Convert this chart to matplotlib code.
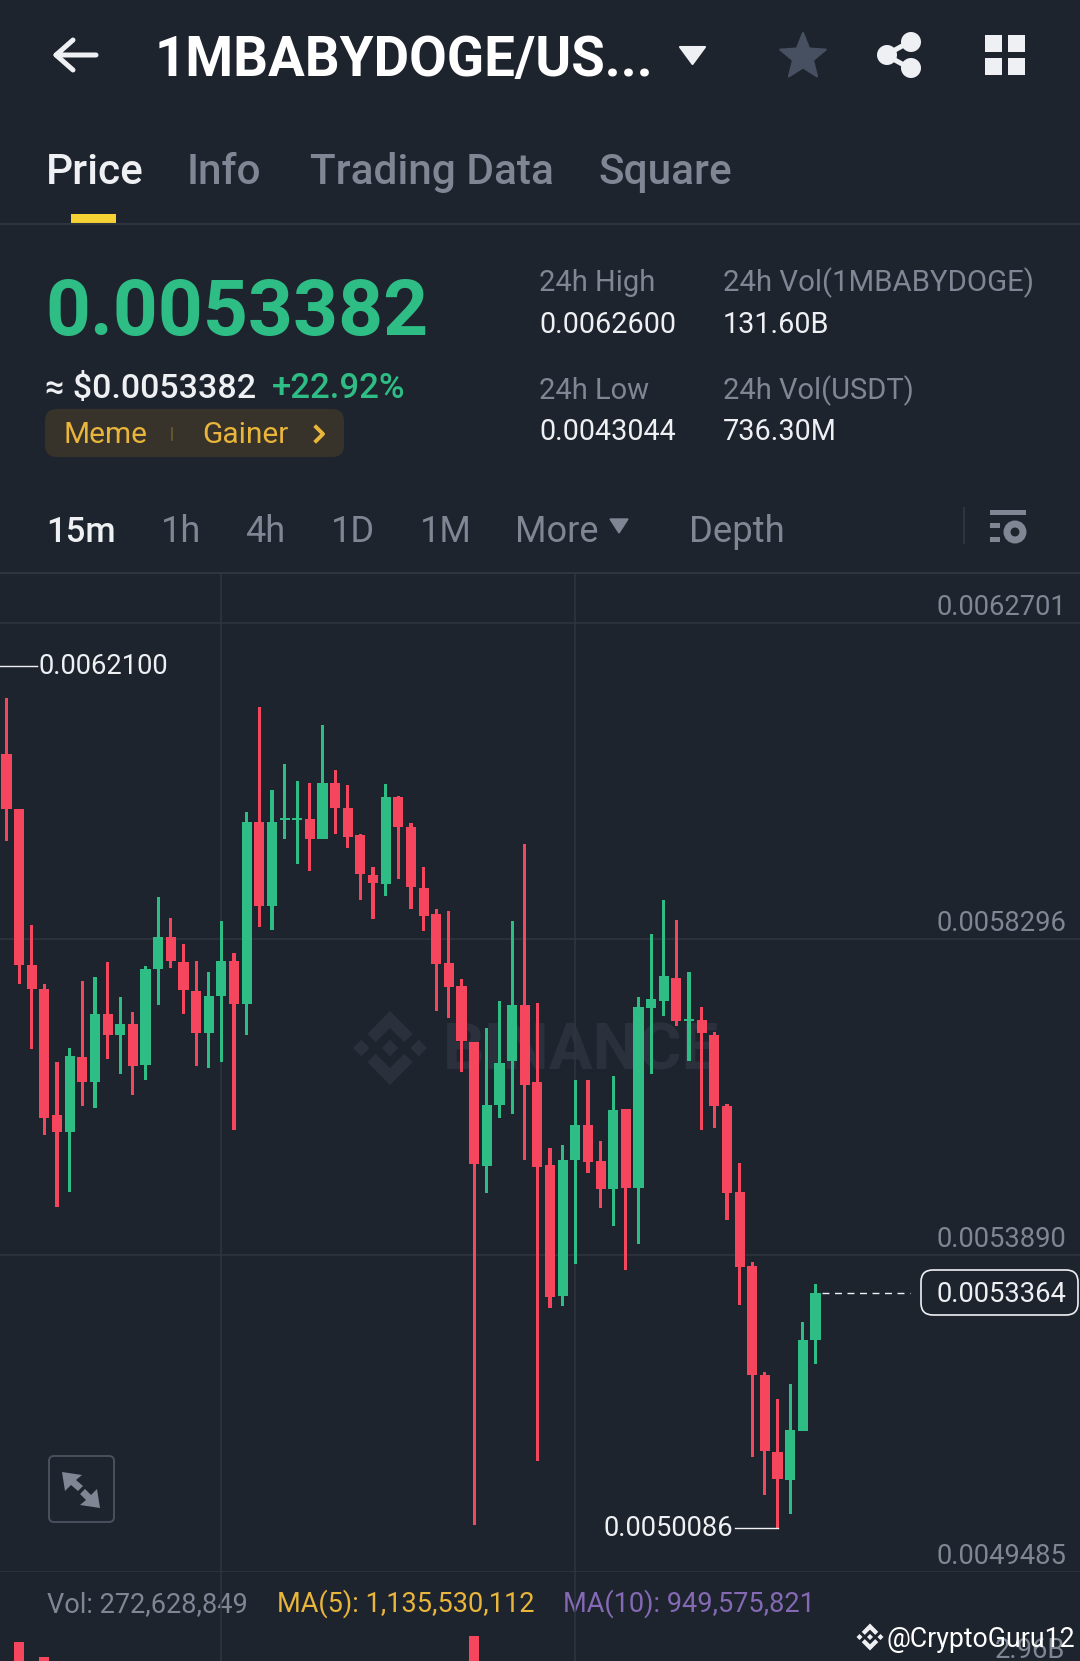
import numpy as np
import matplotlib
matplotlib.use("Agg")
import matplotlib.pyplot as plt
from matplotlib.patches import Polygon, FancyBboxPatch, Circle, Rectangle

plt.rcParams['font.family'] = ['Roboto', 'DejaVu Sans']

# candle prices, in units of 1e-7
high = [61654, 60105, 58493, 57673, 56579, 56781, 57707, 57764, 57970, 57491, 57280, 57913, 58882,
        58594, 58229, 57985, 57841, 58541, 58105, 60066, 61529, 60364, 60738, 60493, 60469, 61270,
        60651, 60440, 59764, 59294, 60450, 60282, 59913, 59294, 58718, 58690, 57735, 56867, 57056,
        57430, 58543, 59613, 57402, 55378, 55426, 56327, 56327, 55483, 56394, 55929, 57483, 58361,
        58845, 58562, 57838, 57349, 56994, 56001, 55172, 53795, 52266, 51886, 52092, 52956, 53491]
low = [59663, 57673, 56762, 55572, 54565, 54776, 55966, 55937, 56618, 56421, 56124, 56325, 57380,
       57894, 57246, 56522, 56493, 56584, 55630, 56963, 58464, 58426, 59687, 59347, 59241, 59687,
       59759, 59567, 58843, 58570, 58896, 59136, 58714, 58402, 57299, 57189, 56450, 50134, 54764,
       55805, 55857, 55219, 51026, 53152, 53186, 53771, 55037, 54553, 54303, 53685, 54054, 56418,
       57219, 57085, 56591, 55642, 55665, 54385, 53196, 51084, 50556, 50086, 50289, 51445, 52371]
opens = [60872, 60105, 57937, 57601, 55841, 55611, 56651, 56301, 57251, 56953, 57117, 56541, 57884,
         58330, 57980, 57572, 56982, 57505, 57985, 57395, 59927, 58752, 59951, 59951, 59970, 59687,
         60474, 60119, 59745, 59188, 59064, 60277, 59855, 59011, 58637, 57956, 57635, 56867, 55138,
         55977, 56596, 57378, 56303, 55152, 53320, 55224, 55699, 55200, 54807, 55929, 54826, 57339,
         57426, 57752, 57147, 57167, 56960, 55963, 54778, 53739, 52228, 51147, 50767, 51445, 52707]
closes = [60109, 57937, 57601, 55807, 55601, 56666, 56301, 57251, 56953, 57117, 56531, 57884, 58320,
          57985, 57587, 56992, 57505, 57989, 57395, 59927, 58752, 59927, 59985, 59985, 59692, 60474,
          60119, 59721, 59198, 59069, 60277, 59860, 59021, 58618, 57941, 57630, 56877, 55160, 55977,
          56562, 57378, 56265, 55124, 53306, 55220, 55704, 55186, 54807, 55920, 54826, 57344, 57464,
          57781, 57152, 57181, 56984, 55972, 54759, 53723, 52228, 51159, 50773, 51458, 52707, 53364]

price_ticks = [62701, 58296, 53890, 49485]
price_tick_labels = ['0.0062701', '0.0058296', '0.0053890', '0.0049485']
time_gridlines = [17, 45]

vol_index = [1, 3, 37]
vol_values = [3.65, 3.25, 3.80]   # billions, only the tops show

high_mark = 62100
low_mark = 50086
low_mark_index = 61
last_price = 53364

BG = '#1E242E'
GRID = '#2F353F'
GRAY = '#7F8694'
WHITE = '#EEF0F3'
GREEN = '#2EBD85'
RED = '#F6465D'
YELLOW = '#E9B53A'
PURPLE = '#8569B5'
MARK = '#2B313C'

W, H = 1080, 1661
fig = plt.figure(figsize=(W / 100, H / 100), dpi=100, facecolor=BG)

# page furniture goes on an axes in pixel coords
ui = fig.add_axes([0, 0, 1, 1], zorder=1)
ui.set_xlim(0, W)
ui.set_ylim(H, 0)
ui.axis('off')


def label(x, y, s, size=22, color=GRAY, weight='normal', ha='left', zorder=5):
    ui.text(x, y, s, fontsize=size, color=color, fontweight=weight, ha=ha, va='baseline', zorder=zorder)


def logo(cx, cy, size, color, zorder=2):
    k = size / 32.0
    shapes = [
        [(9.8, 13.5), (16, 7.3), (22.2, 13.5), (25.8, 9.9), (16, 0), (6.2, 9.9)],
        [(0, 16), (3.6, 12.4), (7.2, 16), (3.6, 19.6)],
        [(9.8, 18.5), (16, 24.7), (22.2, 18.5), (25.8, 22.1), (16, 32), (6.2, 22.1)],
        [(24.8, 16), (28.4, 12.4), (32, 16), (28.4, 19.6)],
        [(19.6, 16), (16, 12.4), (12.4, 16), (16, 19.6)],
    ]
    for s in shapes:
        pts = [(cx + (a - 16) * k, cy + (b - 16) * k) for a, b in s]
        ui.add_patch(Polygon(pts, closed=True, fc=color, ec='none', zorder=zorder))


# header
ui.plot([96, 56, 73], [55, 55, 40], color=WHITE, lw=3.6, solid_capstyle='round', solid_joinstyle='round')
ui.plot([56, 73], [55, 70], color=WHITE, lw=3.6, solid_capstyle='round')
label(155, 76, '1MBABYDOGE/US...', size=39.3, color='#FFFFFF', weight='bold')
ui.add_patch(Polygon([(680, 47), (705, 47), (692.5, 64)], fc=WHITE, ec=WHITE, lw=1.5, joinstyle='round'))
star_a = np.deg2rad(np.arange(-90, 270, 36))
star_r = np.where(np.arange(10) % 2 == 0, 24, 10.5)
ui.add_patch(Polygon(np.c_[803 + star_r * np.cos(star_a), 57 + star_r * np.sin(star_a)],
                     fc='#475060', ec='#475060', lw=1.5, joinstyle='round'))
ui.plot([911, 886, 911], [41, 55, 69], color=WHITE, lw=3.6)
for cx, cy, r in [(911, 42, 10), (887, 55, 10), (911, 68, 10)]:
    ui.add_patch(Circle((cx, cy), r, fc=WHITE, ec='none'))
for gx in (985, 1008):
    for gy in (35, 58):
        ui.add_patch(Rectangle((gx, gy), 17, 17, fc=WHITE, ec='none'))

# tabs
label(46, 184, 'Price', size=30.5, color=WHITE, weight='medium')
label(187, 184, 'Info', size=30.5, weight='medium')
label(310, 184, 'Trading Data', size=30.5, weight='medium')
label(598, 184, 'Square', size=30.5, weight='medium')
ui.add_patch(Rectangle((71, 214), 45, 9, fc='#F5D133', ec='none'))
ui.plot([0, W], [224, 224], color=GRID, lw=1.5)

# price block
label(45, 335, '0.0053382', size=56.5, color=GREEN, weight='bold')
label(45, 398, '≈ $0.0053382', size=24.5, color=WHITE, weight='medium')
label(272, 398, '+22.92%', size=25, color=GREEN, weight='medium')
ui.add_patch(FancyBboxPatch((55, 419), 279, 28, boxstyle='round,pad=10,rounding_size=12', fc='#37332A', ec='none'))
label(63, 443, 'Meme', size=21.5, color=YELLOW)
ui.plot([172, 172], [428, 440], color='#6B5C2C', lw=1.2)
label(202, 443, 'Gainer', size=21.5, color=YELLOW)
ui.plot([316, 323, 316], [427, 434, 441], color=YELLOW, lw=2.8)

label(539, 291, '24h High', size=21)
label(539, 333, '0.0062600', size=20.7, color=WHITE)
label(539, 399, '24h Low', size=21)
label(539, 440, '0.0043044', size=20.7, color=WHITE)
label(723, 291, '24h Vol(1MBABYDOGE)', size=21.2)
label(723, 333, '131.60B', size=20.7, color=WHITE)
label(723, 399, '24h Vol(USDT)', size=21)
label(723, 440, '736.30M', size=20.7, color=WHITE)

# interval row
label(46, 542, '15m', size=25, color=WHITE, weight='medium')
label(161, 542, '1h', size=26)
label(245, 542, '4h', size=26)
label(331, 542, '1D', size=26)
label(420, 542, '1M', size=26)
label(515, 542, 'More', size=26)
ui.add_patch(Polygon([(610, 519), (628, 519), (619, 533)], fc=GRAY, ec=GRAY, lw=1))
label(689, 542, 'Depth', size=26.3)
ui.plot([964, 964], [508, 543], color=GRID, lw=1.5)
ui.add_patch(Rectangle((990, 510), 36, 5, fc=GRAY, ec='none'))
ui.add_patch(Rectangle((990, 523), 10, 5, fc=GRAY, ec='none'))
ui.add_patch(Rectangle((990, 537), 10, 5, fc=GRAY, ec='none'))
ui.add_patch(Circle((1015, 532), 8, fc=BG, ec=GRAY, lw=5))
ui.plot([0, W], [573, 573], color=GRID, lw=1.5)

# watermark sits under the candles
logo(390, 1048, 74, MARK)
label(443, 1069, 'BINANCE', size=47, color=MARK, weight='bold', zorder=2)

# candles
px_per_candle = 12.64
x_left = -6.5 / px_per_candle
x_right = (W - 6.5) / px_per_candle
y_top = 63393
y_bottom = 49485
chart_top_px = 573.0
chart_bottom_px = 1571.6

ax = fig.add_axes([0, (H - chart_bottom_px) / H, 1, (chart_bottom_px - chart_top_px) / H], zorder=2)
ax.patch.set_alpha(0)
ax.set_xlim(x_left, x_right)
ax.set_ylim(y_bottom, y_top)
ax.set_xticks(time_gridlines)
ax.set_yticks(price_ticks)
ax.grid(True, color=GRID, lw=1.1)
ax.set_axisbelow(True)
ax.tick_params(length=0, labelleft=False, labelbottom=False)
for sp in ax.spines.values():
    sp.set_visible(False)

idx = np.arange(len(high))
o = np.array(opens)
c = np.array(closes)
colors = [GREEN if a >= b else RED for a, b in zip(c, o)]
ax.bar(idx, np.array(high) - np.array(low), bottom=low, width=0.25, color=colors, zorder=3)
ax.bar(idx, np.abs(c - o), bottom=np.minimum(o, c), width=0.8, color=colors, zorder=4)

for p, s in zip(price_ticks, price_tick_labels):
    ax.annotate(s, xy=(1066, p), xycoords=('figure pixels', 'data'), xytext=(0, 8), textcoords='offset pixels',
                ha='right', va='baseline', fontsize=19.7, color=GRAY, annotation_clip=False)

# high, low and last price marks
ax.plot([x_left, 2.4], [high_mark, high_mark], color=WHITE, lw=1)
ax.annotate('0.0062100', xy=(2.5, high_mark), xytext=(0, -8), textcoords='offset pixels',
            ha='left', va='baseline', fontsize=19.7, color=WHITE)
ax.plot([low_mark_index - 3.4, low_mark_index], [low_mark, low_mark], color=WHITE, lw=1, zorder=5)
ax.annotate('0.0050086', xy=(low_mark_index - 3.5, low_mark), xytext=(0, -8), textcoords='offset pixels',
            ha='right', va='baseline', fontsize=19.7, color=WHITE)
ax.plot([64.5, 71.5], [last_price, last_price], color=WHITE, lw=1, dashes=(5, 4), zorder=5)
ui.add_patch(FancyBboxPatch((933, 1282), 133, 21, boxstyle='round,pad=12,rounding_size=12', fc=BG, ec=WHITE, lw=1.2, zorder=6))
ui.text(1001, 1302, '0.0053364', fontsize=19.7, color=WHITE, ha='center', va='baseline', zorder=7)

# expand button
ui.add_patch(FancyBboxPatch((53, 1460), 57, 58, boxstyle='round,pad=4,rounding_size=5', fc='none', ec='#4A515E', lw=1.4))
ui.add_patch(Polygon([(62, 1472), (82, 1475), (76, 1480), (83, 1486), (78, 1491), (71, 1485), (65, 1491)], fc=GRAY, ec='none'))
ui.add_patch(Polygon([(100, 1508), (80, 1505), (86, 1500), (80, 1494), (85, 1489), (91, 1495), (97, 1489)], fc=GRAY, ec='none'))

# volume pane
vol = fig.add_axes([0, 0, 1, (H - chart_bottom_px) / H], zorder=2)
vol.patch.set_alpha(0)
vol.set_xlim(x_left, x_right)
vol.set_ylim(3.14, 5.5)
vol.set_xticks(time_gridlines)
vol.set_yticks([])
vol.grid(True, axis='x', color=GRID, lw=1.1)
vol.set_axisbelow(True)
vol.tick_params(length=0, labelbottom=False)
for sp in vol.spines.values():
    sp.set_visible(False)
vol.bar(vol_index, vol_values, width=0.8, color=RED, zorder=3)

label(47, 1612, 'Vol: 272,628,849', size=19.5)
label(277, 1612, 'MA(5): 1,135,530,112', size=19.5, color=YELLOW)
label(563, 1612, 'MA(10): 949,575,821', size=19.5, color=PURPLE)
label(1065, 1658, '2.96B', size=19.7, ha='right')

# overlay signature
logo(870, 1637, 27, WHITE, zorder=8)
label(887, 1647, '@CryptoGuru12', size=19.2, color='#FFFFFF', zorder=9)

fig.savefig('out.png', dpi=100, facecolor=BG)
